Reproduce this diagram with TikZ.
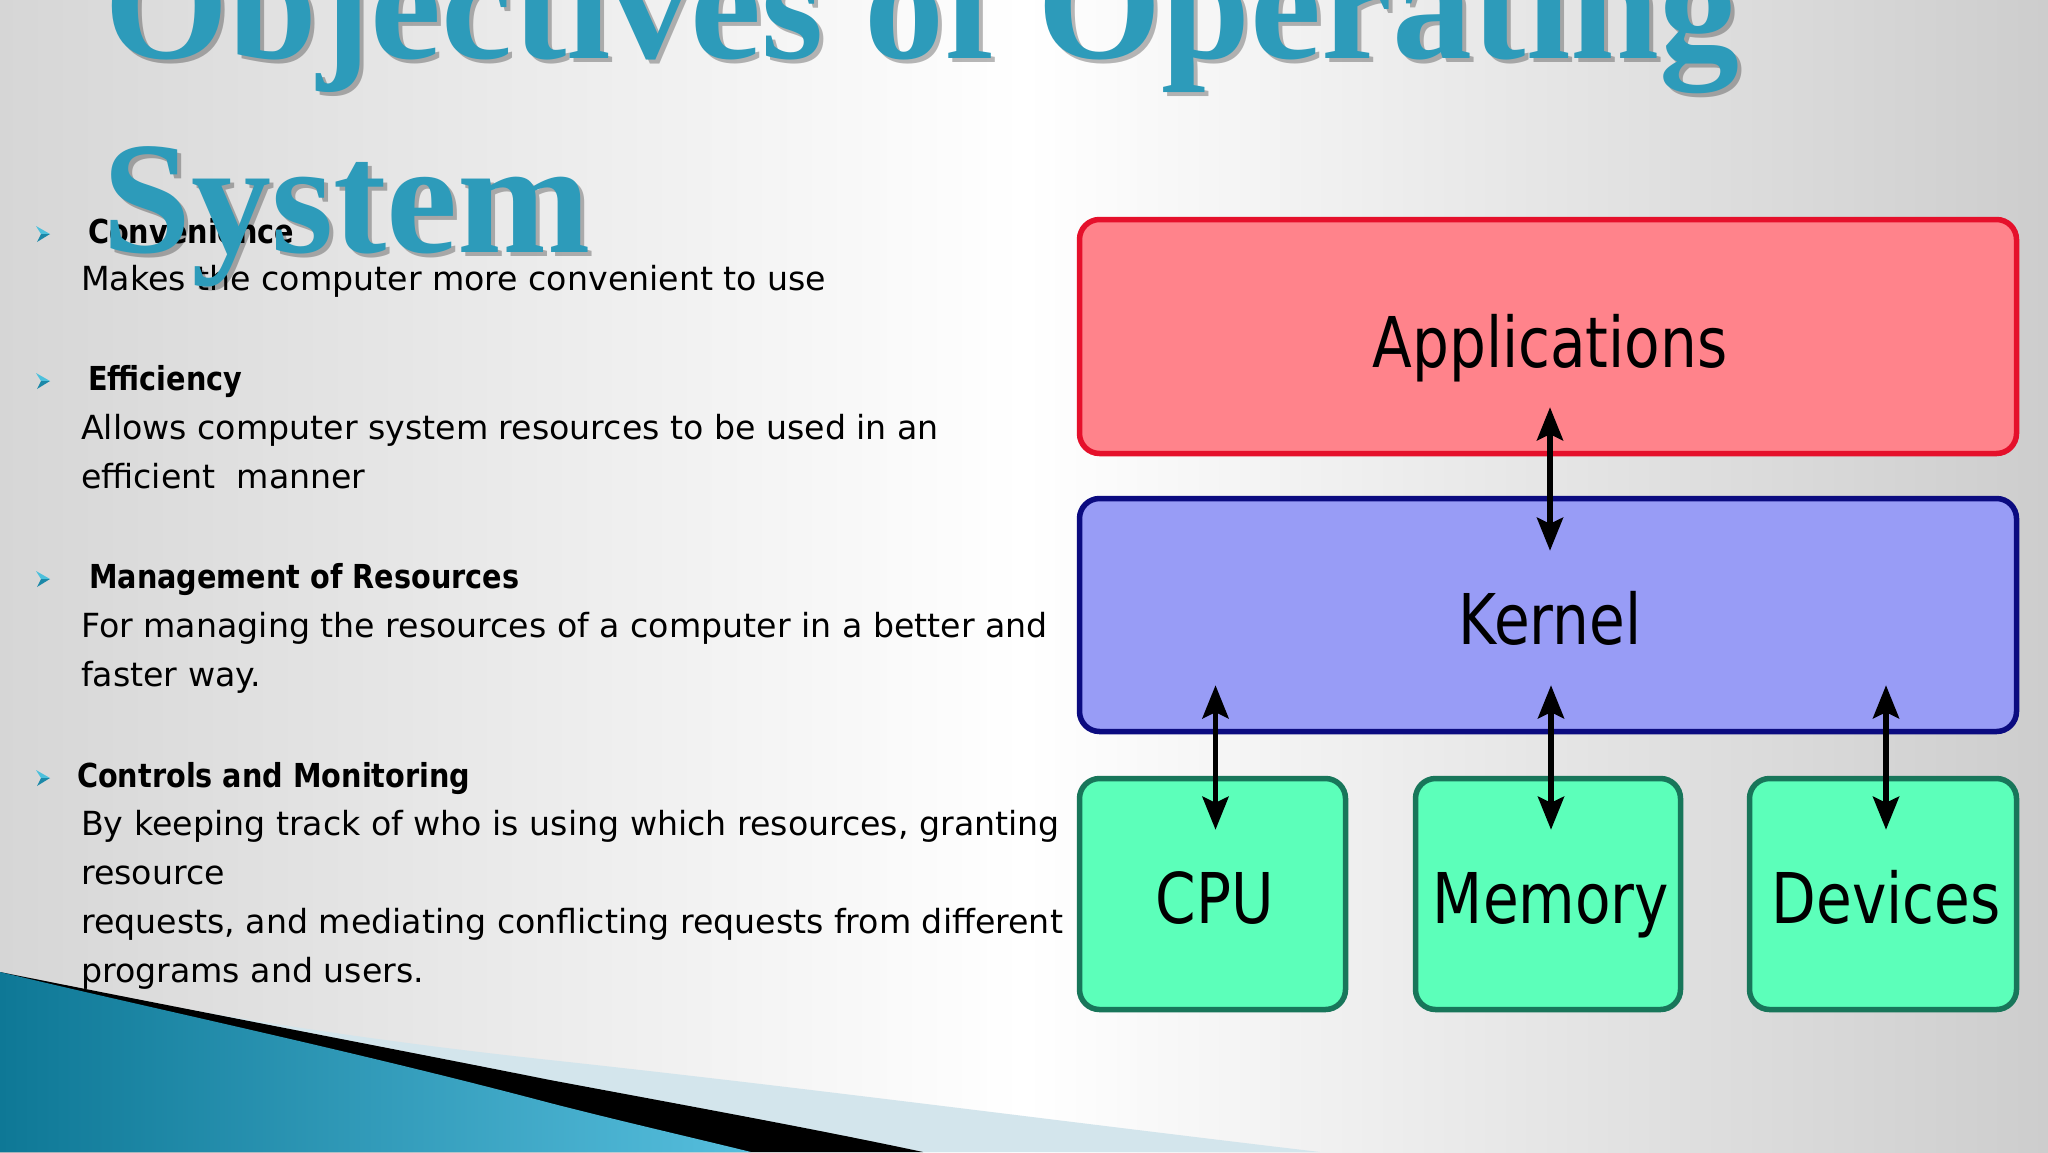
\documentclass[tikz,border=0pt]{standalone}
\usepackage{fontspec}
\usetikzlibrary{arrows.meta,calc}
\newfontfamily\titlefont{Liberation Serif}
\newfontfamily\bodyfont{DejaVu Sans}
\newfontfamily\headfont[FakeStretch=0.87]{DejaVu Sans Bold}
\newfontfamily\diagfont[FakeStretch=0.83]{DejaVu Sans}
\definecolor{bgL}{HTML}{D6D6D6}
\definecolor{bgR}{HTML}{CDCDCD}
\definecolor{tealA}{HTML}{0E7896}
\definecolor{tealB}{HTML}{56BEDD}
\definecolor{paleband}{HTML}{D3E5EC}
\definecolor{ttl}{HTML}{2D9BBA}
\definecolor{appF}{HTML}{FF838B}
\definecolor{appD}{HTML}{E5102B}
\definecolor{kerF}{HTML}{989CF6}
\definecolor{kerD}{HTML}{0B0B80}
\definecolor{hwF}{HTML}{5CFFBA}
\definecolor{hwD}{HTML}{18765A}
\definecolor{bulL}{HTML}{4CC0DC}
\definecolor{bulD}{HTML}{1B88A8}
\tikzset{
  bodytxt/.style={anchor=base west, inner sep=0pt, font=\bodyfont\fontsize{33.2}{40}\selectfont},
  headtxt/.style={anchor=base west, inner sep=0pt, font=\headfont\fontsize{33}{40}\selectfont},
  titletxt/.style={anchor=base west, inner sep=0pt, text=ttl, font=\titlefont\bfseries\fontsize{160}{193}\selectfont},
  titleshadow/.style={anchor=base west, inner sep=0pt, text=black, opacity=0.28, font=\titlefont\bfseries\fontsize{160}{193}\selectfont},
  layerbox/.style={draw, line width=5.5pt, rounded corners=20pt, inner sep=0pt},
  diagtxt/.style={anchor=base, inner sep=0pt, font=\diagfont\fontsize{70}{84}\selectfont},
  dblarrow/.style={line width=5.5pt, {Stealth[length=33pt,width=26pt,inset=6pt]}-{Stealth[length=33pt,width=26pt,inset=6pt]}},
  bulletmark/.pic={
    \fill[bulL] (-7,-8) -- (7,0) -- (-2,0) -- cycle;
    \fill[bulD] (-6,8) -- (7,0) -- (-2,0) -- cycle;
  }
}
\begin{document}
\begin{tikzpicture}[x=1pt,y=-1pt]
\useasboundingbox (0,0) rectangle (2048,1152);
\clip (0,0) rectangle (2048,1152);
% background
\shade[left color=bgL, right color=bgR, middle color=white] (0,0) rectangle (2048,1152);
% bottom-left decoration
\fill[paleband] (0,972) .. controls (120,999) and (300,1033) .. (550,1060)
   .. controls (800,1087) and (1050,1120) .. (1320,1152) -- (0,1152) -- cycle;
\fill[black] (0,972) .. controls (200,1012) and (400,1050) .. (550,1080)
   .. controls (700,1108) and (820,1130) .. (923,1152) -- (0,1152) -- cycle;
\shade[left color=tealA, right color=tealB] (0,972) .. controls (150,1008) and (350,1050) .. (550,1103)
   .. controls (620,1121) and (690,1137) .. (751,1152) -- (0,1152) -- cycle;
% bullets
\foreach \yy in {234,381,579,778} { \pic at (43,\yy) {bulletmark}; }
% headings and body
\node[headtxt] (h1) at (88,243) {Convenience};
\node[bodytxt] (b1) at (81,290) {Makes the computer more convenient to use};
\node[headtxt] (h2) at (88,390) {Efficiency};
\node[bodytxt] (b2) at (81,439) {Allows computer system resources to be used in an};
\node[bodytxt] (b3) at (81,488) {efficient\ \ manner};
\node[headtxt] (h3) at (89,588) {Management of Resources};
\node[bodytxt] (b4) at (81,637) {For managing the resources of a computer in a better and};
\node[bodytxt] (b5) at (81,686) {faster way.};
\node[headtxt] (h4) at (77,787) {Controls and Monitoring};
\node[bodytxt] (b6) at (81,835) {By keeping track of who is using which resources, granting};
\node[bodytxt] (b7) at (81,884) {resource};
\node[bodytxt] (b8) at (81,933) {requests, and mediating conflicting requests from different};
\node[bodytxt] (b9) at (81,982) {programs and users.};
% diagram boxes
\node[layerbox, fill=appF, draw=appD, minimum width=937pt, minimum height=234pt] (app) at (1548,336.5) {};
\node[layerbox, fill=kerF, draw=kerD, minimum width=937pt, minimum height=233pt] (kern) at (1548,615) {};
\node[layerbox, fill=hwF, draw=hwD, minimum width=266pt, minimum height=231pt] (cpu) at (1212.5,894) {};
\node[layerbox, fill=hwF, draw=hwD, minimum width=265pt, minimum height=231pt] (mem) at (1548,894) {};
\node[layerbox, fill=hwF, draw=hwD, minimum width=267pt, minimum height=231pt] (dev) at (1883,894) {};
\node[diagtxt] (appt) at (1550,367) {Applications};
\node[diagtxt] (kernt) at (1550,644) {Kernel};
\node[diagtxt] (cput) at (1215,923) {CPU};
\node[diagtxt] (memt) at (1551,923) {Memory};
\node[diagtxt] (devt) at (1886,923) {Devices};
% arrows
\draw[dblarrow] ($(app.south)+(2,-49)$) -- ($(kern.north)+(2,55)$);
\draw[dblarrow] ($(cpu.north |- kern.south)+(3,-49)$) -- ($(cpu.north)+(3,54)$);
\draw[dblarrow] ($(mem.north |- kern.south)+(3,-49)$) -- ($(mem.north)+(3,54)$);
\draw[dblarrow] ($(dev.north |- kern.south)+(3,-49)$) -- ($(dev.north)+(3,54)$);
% title
\node[titleshadow] (t1s) at (108,62) {Objectives of Operating};
\node[titleshadow] (t2s) at (106,256) {System};
\node[titletxt] (t1) at (104,58) {Objectives of Operating};
\node[titletxt] (t2) at (102,252) {System};
\end{tikzpicture}
\end{document}
